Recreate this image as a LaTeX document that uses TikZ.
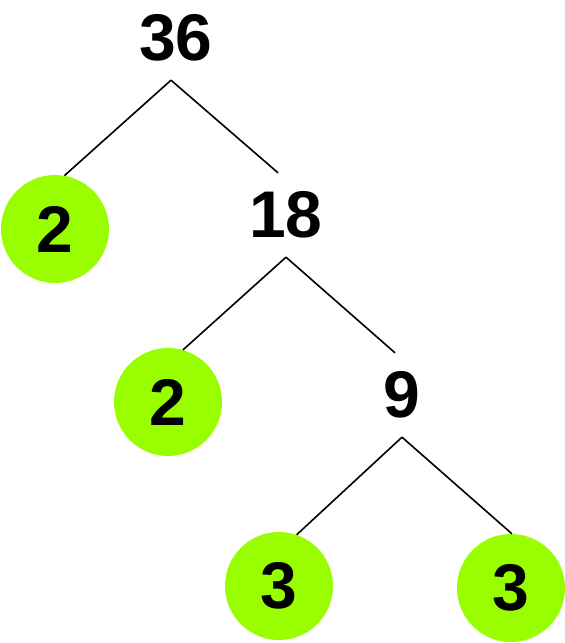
\documentclass[tikz,border=0pt]{standalone}
\usepackage{fontspec}
\setmainfont{Liberation Sans}
\usepackage{xcolor}
\usepackage{tikz}
\usetikzlibrary{positioning}
\definecolor{primegreen}{HTML}{99FF00}
\tikzset{
  numnode/.style={inner sep=0pt, minimum height=84pt, font=\fontsize{66}{70}\selectfont\bfseries},
  primenode/.style={circle, fill=primegreen, inner sep=0pt, minimum size=108pt, font=\fontsize{66}{70}\selectfont\bfseries},
  branch/.style={line width=1.6pt, black}
}

\begin{document}
\begin{tikzpicture}[x=1pt, y=-1pt]
\useasboundingbox (0,0) rectangle (565,643);
\node[numnode] (n36) at (176,38) {36};
\node[primenode] (p2a) at (55,229) {2};
\node[numnode] (n18) at (286,215) {18};
\node[primenode] (p2b) at (168,402) {2};
\node[numnode] (n9) at (402,395) {9};
\node[primenode] (p3a) at (279,586) {3};
\node[primenode] (p3b) at (511,588) {3};
\draw[branch] ([xshift=-5pt]n36.south) -- (p2a.80); \draw[branch] ([xshift=-5pt]n36.south) -- (n18.north -| 278,0);
\draw[branch] (n18.south) -- (p2b.74); \draw[branch] (n18.south) -- (n9.north -| 395,0);
\draw[branch] (n9.south) -- (p3a.71); \draw[branch] (n9.south) -- (p3b.89);
\end{tikzpicture}
\end{document}
